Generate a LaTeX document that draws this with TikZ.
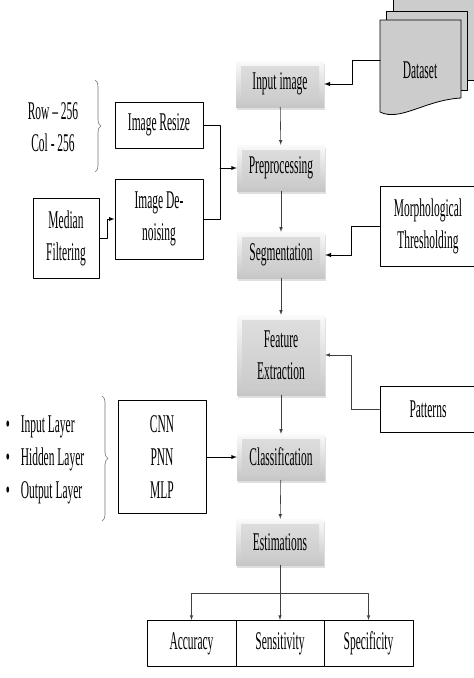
\documentclass[tikz,border=0pt]{standalone}
\usepackage{fontspec}
\setmainfont[FakeStretch=0.45]{Liberation Serif}
\usepackage{tikz}
\usetikzlibrary{shapes,arrows}
\usetikzlibrary{positioning,shadows}
\usetikzlibrary{decorations.pathreplacing}

\tikzset{
  stage/.style={minimum width=88pt,minimum height=46pt,inner sep=0pt,align=center,
    top color=gray!4,bottom color=gray!45,
    drop shadow={shadow xshift=1pt,shadow yshift=-3pt,opacity=0.25},
    path picture={\shade[top color=gray!25,bottom color=gray!42]
      ([xshift=5pt,yshift=-5pt]path picture bounding box.north west) rectangle
      ([xshift=-5pt,yshift=5pt]path picture bounding box.south east);}},
  plainbox/.style={draw=black,line width=1pt,fill=white,inner sep=0pt,align=center,
    minimum width=88pt,minimum height=46pt},
  flow/.style={-latex,draw=black!75,line width=0.6pt},
  feed/.style={-latex,draw=black,line width=1pt},
  link/.style={draw=black,line width=0.9pt},
  bracket/.style={decorate,draw=black!55,line width=0.6pt,decoration={brace,amplitude=6pt}}
}

\begin{document}
\begin{tikzpicture}
    [line cap=round,line join=round,x=1pt,y=-1pt,font=\fontsize{25.5}{32}\selectfont]
\useasboundingbox (0,0) rectangle (474,678);
%the stack of documents
\filldraw[fill=gray!40,draw=black,line width=0.8pt] (393,-5) rectangle (480,80);
\filldraw[fill=gray!40,draw=black,line width=0.8pt] (386,11) rectangle (467,90);
\filldraw[fill=gray!40,draw=black,line width=0.8pt] (380,20) -- (461,20) -- (461,98)
     .. controls (425,100) and (400,122) .. (380,112) -- cycle;
\node (data) at (420,70) {Dataset};
\coordinate (dataport) at (380,60);

%main column
\node[stage] (input) at (280,84) {Input image};
\node[stage] (pre) at (281,168) {Preprocessing};
\node[stage] (seg) at (281,255) {Segmentation};
\node[stage,minimum height=80pt] (feat) at (281,355) {Feature\\Extraction};
\node[stage] (cls) at (281,457) {Classification};
\node[stage] (est) at (280,542) {Estimations};

%side boxes
\node[plainbox] (resize) at (159,125) {Image Resize};
\node[plainbox,minimum height=80pt] (denoise) at (159,219) {Image De-\\noising};
\node[plainbox,minimum width=66pt,minimum height=80pt] (median) at (66,238) {Median\\Filtering};
\node[plainbox,minimum width=96pt,minimum height=80pt] (morph) at (428,226) {Morphological\\Thresholding};
\node[plainbox,minimum width=96pt] (patterns) at (428,409) {Patterns};
\node[plainbox,minimum height=113pt,font=\fontsize{25.5}{33}\selectfont] (nets) at (162,457) {CNN\\PNN\\MLP};

%outputs
\node[plainbox,minimum width=89pt] (acc) at (191.5,643.5) {Accuracy};
\node[plainbox,minimum width=88pt] (sens) at (280,643.5) {Sensitivity};
\node[plainbox,minimum width=89pt] (spec) at (368.5,643.5) {Specificity};

%notes and braces
\node[align=center] (size) at (53,127) {Row -- 256\\Col - 256};
\draw[bracket] (95,80) -- (95,172);
\node[align=left,font=\fontsize{25.5}{33}\selectfont] (layers) at (45,460)
   {\textbullet\hspace{11pt}Input Layer\\\textbullet\hspace{11pt}Hidden Layer\\\textbullet\hspace{11pt}Output Layer};
\draw[bracket] (102,396) -- (102,521);

%connectors
\draw[flow] (input) -- (pre);
\draw[flow] (pre) -- (seg);
\draw[flow] (seg) -- (feat);
\draw[flow] (feat) -- (cls);
\draw[flow] (cls) -- (est);

\draw[feed] (dataport) -- ++(-28,0) |- (input.east);
\draw[feed] (morph.west) -- ++(-28,0) |- (seg.east);
\draw[flow] (patterns.west) -- ++(-28,0) |- (feat.east);

\coordinate (join) at (220,168);
\draw[link] (resize.east) -| (join);
\draw[link] (denoise.east) -| (join);
\draw[feed,line width=0.9pt] (join) -- (pre.west);
\draw[feed,line width=0.9pt] (median.east) -- ++(8,0) |- (denoise.west);
\draw[feed,line width=0.9pt] (nets.east) -- (cls.west);

\coordinate (split) at (280,593);
\draw[flow,-] (est.south) -- (split);
\draw[flow] (split) -- (sens.north);
\draw[flow] (split) -| (acc.north);
\draw[flow] (split) -| (spec.north);

 \end{tikzpicture}
\end{document}
